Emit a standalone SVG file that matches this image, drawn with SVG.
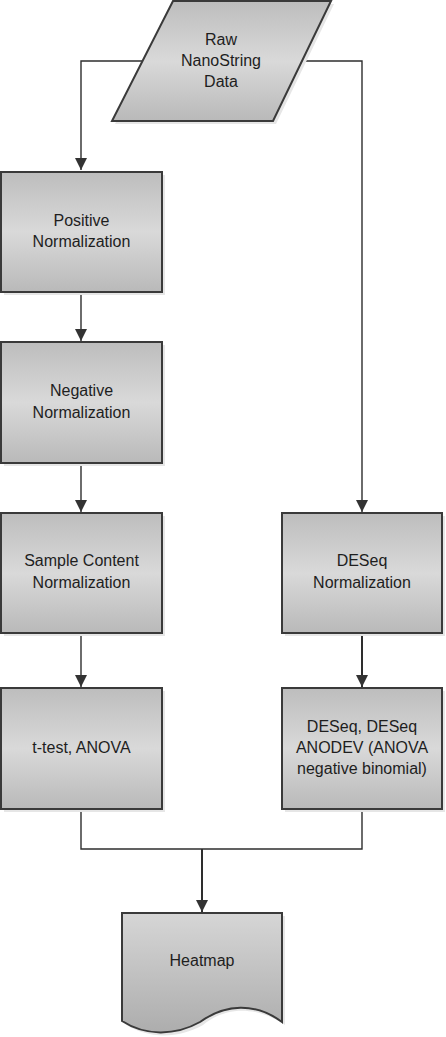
<svg xmlns="http://www.w3.org/2000/svg" width="446" height="1037" viewBox="0 0 446 1037">
<style>
.box{stroke:#3a3a3a;stroke-width:2;fill:url(#g)}
.sh{fill:#e6e6e6}
.t{font-family:"Liberation Sans",Arial,sans-serif;font-size:16px;fill:#1e1e1e;text-anchor:middle}
.c{fill:none;stroke:#2e2e2e;stroke-width:1.4}
.ct{fill:none;stroke:#2e2e2e;stroke-width:2}
</style>
<defs>
<linearGradient id="g" x1="0" y1="0" x2="0" y2="1">
<stop offset="0" stop-color="#bdbdbd"/>
<stop offset="0.5" stop-color="#d9d9d9"/>
<stop offset="1" stop-color="#b9b9b9"/>
</linearGradient>
<linearGradient id="g2" x1="0" y1="0" x2="0" y2="1">
<stop offset="0" stop-color="#d6d6d6"/>
<stop offset="1" stop-color="#adadad"/>
</linearGradient>
<marker id="a" markerUnits="userSpaceOnUse" markerWidth="12" markerHeight="12" viewBox="0 0 12 12" refX="12" refY="6" orient="auto">
<path d="M0,0 L12,6 L0,12 Z" fill="#333"/>
</marker>
</defs>
<g id="connectors">
<path class="c" d="M142,61 H81 V170" marker-end="url(#a)"/>
<path class="c" d="M302,61 H362 V512" marker-end="url(#a)"/>
<path class="c" d="M81,293 V341" marker-end="url(#a)"/>
<path class="c" d="M81,464 V512" marker-end="url(#a)"/>
<path class="c" d="M81,634 V687" marker-end="url(#a)"/>
<path class="ct" d="M362,634 V687" marker-end="url(#a)"/>
<path class="c" d="M81,810 V849 H362 V810" stroke-width="1.7"/>
<path class="ct" d="M202,849 V912" marker-end="url(#a)"/>
</g>
<g id="raw">
<path class="sh" d="M176,4 H334 L276,124 H115 Z"/>
<path class="box" d="M173,1 H331 L273,121 H112 Z"/>
<text class="t" x="221" y="45">Raw</text>
<text class="t" x="221" y="66">NanoString</text>
<text class="t" x="221" y="87">Data</text>
</g>
<g id="positive">
<rect class="sh" x="4" y="175" width="161" height="120"/>
<rect class="box" x="1" y="172" width="161" height="120"/>
<text class="t" x="81.5" y="226">Positive</text>
<text class="t" x="81.5" y="247">Normalization</text>
</g>
<g id="negative">
<rect class="sh" x="4" y="345" width="161" height="121"/>
<rect class="box" x="1" y="342" width="161" height="121"/>
<text class="t" x="81.5" y="396">Negative</text>
<text class="t" x="81.5" y="418">Normalization</text>
</g>
<g id="samplecontent">
<rect class="sh" x="4" y="516" width="161" height="120"/>
<rect class="box" x="1" y="513" width="161" height="120"/>
<text class="t" x="81.5" y="566">Sample Content</text>
<text class="t" x="81.5" y="588">Normalization</text>
</g>
<g id="ttest">
<rect class="sh" x="4" y="691" width="161" height="121"/>
<rect class="box" x="1" y="688" width="161" height="121"/>
<text class="t" x="81.5" y="753">t-test, ANOVA</text>
</g>
<g id="deseqnorm">
<rect class="sh" x="285" y="516" width="160" height="120"/>
<rect class="box" x="282" y="513" width="160" height="120"/>
<text class="t" x="362" y="566">DESeq</text>
<text class="t" x="362" y="588">Normalization</text>
</g>
<g id="deseq">
<rect class="sh" x="285" y="691" width="160" height="121"/>
<rect class="box" x="282" y="688" width="160" height="121"/>
<text class="t" x="362" y="732">DESeq, DESeq</text>
<text class="t" x="362" y="753">ANODEV (ANOVA</text>
<text class="t" x="362" y="774">negative binomial)</text>
</g>
<g id="heatmap">
<path class="sh" d="M125,916 H285 V1025 C255,1005 225,1007 203,1025 C178,1039 148,1039 125,1024 Z"/>
<path d="M122,913 H282 V1022 C255,1002 225,1004 200,1022 C175,1036 145,1036 122,1021 Z" fill="url(#g2)" stroke="#3a3a3a" stroke-width="2"/>
<text class="t" x="202" y="966">Heatmap</text>
</g>
</svg>
